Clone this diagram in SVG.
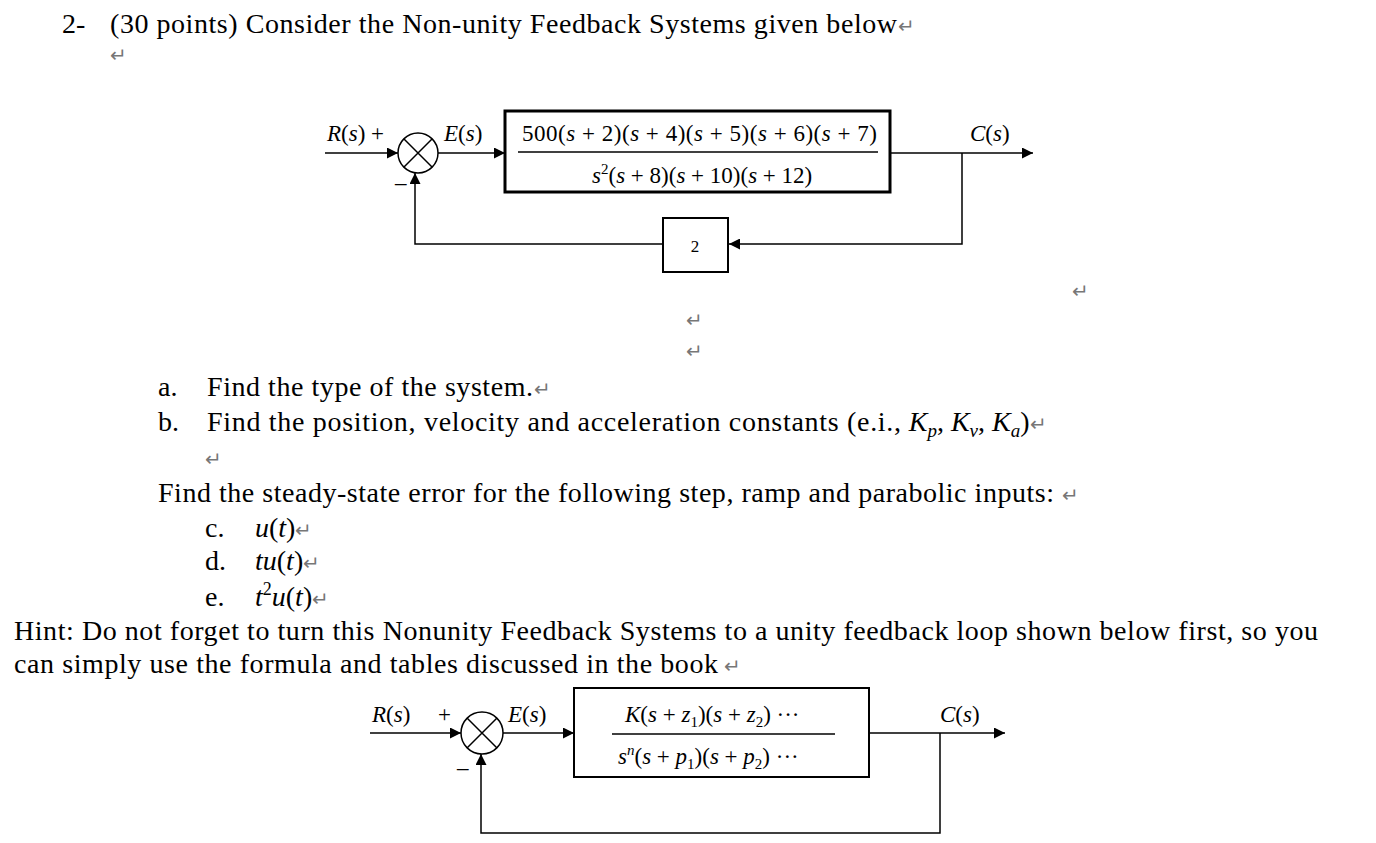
<svg xmlns="http://www.w3.org/2000/svg" width="1376" height="843" viewBox="0 0 1376 843">
<style>
text{font-family:"Liberation Serif","Times New Roman",serif;fill:#000}
.doc{font-size:28px}
.r{fill:#777;font-size:20px}
.lab{font-size:23px}
.it{font-style:italic}
.ln{stroke:#000;stroke-width:1.5;fill:none}
.bx{stroke:#000;stroke-width:3;fill:#fff}
</style>
<defs>
<marker id="ah2" viewBox="0 0 10 10" refX="10" refY="5" markerWidth="18" markerHeight="11" markerUnits="userSpaceOnUse" orient="auto"><path d="M0,0 L10,5 L0,10 Z" fill="#000"/></marker>
</defs>
<rect width="1376" height="843" fill="#fff"/>
<g id="text">
<text class="doc" x="62" y="33">2-</text>
<text class="doc" x="110" y="33" textLength="787">(30 points) Consider the Non-unity Feedback Systems given below</text><text class="r" x="898" y="33">↵</text>
<text class="r" x="110" y="62">↵</text>
<text class="r" x="1072" y="298">↵</text>
<text class="r" x="686" y="327">↵</text>
<text class="r" x="686" y="358">↵</text>
<text class="doc" x="158" y="396">a.</text>
<text class="doc" x="207" y="396" textLength="326">Find the type of the system.</text><text class="r" x="534" y="396">↵</text>
<text class="doc" x="158" y="431">b.</text>
<text class="doc" x="207" y="431"><tspan textLength="694">Find the position, velocity and acceleration constants (e.i.,</tspan> <tspan class="it">K</tspan><tspan class="it" font-size="19" dy="6">p</tspan><tspan dy="-6">, </tspan><tspan class="it">K</tspan><tspan class="it" font-size="19" dy="6">v</tspan><tspan dy="-6">, </tspan><tspan class="it">K</tspan><tspan class="it" font-size="19" dy="6">a</tspan><tspan dy="-6">)</tspan><tspan class="r">↵</tspan></text>
<text class="r" x="205" y="466">↵</text>
<text class="doc" x="158" y="502" textLength="896">Find the steady-state error for the following step, ramp and parabolic inputs:</text><text class="r" x="1062" y="502">↵</text>
<text class="doc" x="205" y="537">c.</text><text class="doc" x="255" y="537"><tspan class="it">u</tspan>(<tspan class="it">t</tspan>)<tspan class="r">↵</tspan></text>
<text class="doc" x="205" y="570">d.</text><text class="doc" x="255" y="570"><tspan class="it">tu</tspan>(<tspan class="it">t</tspan>)<tspan class="r">↵</tspan></text>
<text class="doc" x="205" y="606">e.</text><text class="doc" x="255" y="606"><tspan class="it">t</tspan><tspan font-size="18" dy="-11">2</tspan><tspan class="it" dy="11">u</tspan>(<tspan class="it">t</tspan>)<tspan class="r">↵</tspan></text>
<text class="doc" x="14" y="640" textLength="1304">Hint: Do not forget to turn this Nonunity Feedback Systems to a unity feedback loop shown below first, so you</text>
<text class="doc" x="14" y="673" textLength="704">can simply use the formula and tables discussed in the book</text><text class="r" x="724" y="673">↵</text>
</g>
<g id="sum1"><circle cx="418" cy="153" r="20" class="ln"/><path d="M404,139 L432,167 M432,139 L404,167" class="ln"/></g>
<g id="G1"><rect x="505" y="111" width="385" height="81" class="bx"/>
<line x1="518" y1="152" x2="878" y2="152" class="ln"/>
<text class="lab" x="522" y="141" textLength="355">500(<tspan class="it">s</tspan> + 2)(<tspan class="it">s</tspan> + 4)(<tspan class="it">s</tspan> + 5)(<tspan class="it">s</tspan> + 6)(<tspan class="it">s</tspan> + 7)</text>
<text class="lab" x="592" y="183"><tspan class="it">s</tspan><tspan font-size="15" dy="-9">2</tspan><tspan dy="9">(</tspan><tspan class="it">s</tspan> + 8)(<tspan class="it">s</tspan> + 10)(<tspan class="it">s</tspan> + 12)</text></g>
<g id="H1"><rect x="663" y="218" width="65" height="54" fill="#fff" stroke="#000" stroke-width="2"/><text x="695" y="252" text-anchor="middle" font-family="'Open Sans','DejaVu Sans',sans-serif" font-size="17">2</text></g>
<g id="labels1">
<text class="lab" x="327" y="141"><tspan class="it">R</tspan>(<tspan class="it">s</tspan>) +</text>
<text class="lab" x="444" y="141"><tspan class="it">E</tspan>(<tspan class="it">s</tspan>)</text>
<text class="lab" x="970" y="141"><tspan class="it">C</tspan>(<tspan class="it">s</tspan>)</text>
<text class="lab" x="395" y="190">–</text>
</g>
<g id="sum2"><circle cx="482" cy="733" r="21" class="ln"/><path d="M467,718 L497,748 M497,718 L467,748" class="ln"/></g>
<g id="G2"><rect x="574" y="688" width="295" height="89" fill="#fff" stroke="#000" stroke-width="2"/>
<line x1="612" y1="734" x2="835" y2="734" class="ln"/>
<text class="lab" x="625" y="722"><tspan class="it">K</tspan>(<tspan class="it">s</tspan> + <tspan class="it">z</tspan><tspan font-size="15" dy="5">1</tspan><tspan dy="-5">)(</tspan><tspan class="it">s</tspan> + <tspan class="it">z</tspan><tspan font-size="15" dy="5">2</tspan><tspan dy="-5">) ···</tspan></text>
<text class="lab" x="618" y="764"><tspan class="it">s</tspan><tspan class="it" font-size="15" dy="-9">n</tspan><tspan dy="9">(</tspan><tspan class="it">s</tspan> + <tspan class="it">p</tspan><tspan font-size="15" dy="5">1</tspan><tspan dy="-5">)(</tspan><tspan class="it">s</tspan> + <tspan class="it">p</tspan><tspan font-size="15" dy="5">2</tspan><tspan dy="-5">) ···</tspan></text></g>
<g id="labels2">
<text class="lab" x="372" y="722"><tspan class="it">R</tspan>(<tspan class="it">s</tspan>)</text>
<text class="lab" x="438" y="722">+</text>
<text class="lab" x="508" y="722"><tspan class="it">E</tspan>(<tspan class="it">s</tspan>)</text>
<text class="lab" x="940" y="722"><tspan class="it">C</tspan>(<tspan class="it">s</tspan>)</text>
<text class="lab" x="457" y="775">–</text>
</g>
<g id="connectors">
<line x1="325" y1="153" x2="398" y2="153" class="ln" marker-end="url(#ah2)"/>
<line x1="438" y1="153" x2="505" y2="153" class="ln" marker-end="url(#ah2)"/>
<line x1="890" y1="153" x2="1033" y2="153" class="ln" marker-end="url(#ah2)"/>
<polyline points="962,153 962,244 729,244" class="ln" marker-end="url(#ah2)"/>
<polyline points="663,244 415,244 415,173" class="ln" marker-end="url(#ah2)"/>
<line x1="370" y1="733" x2="461" y2="733" class="ln" marker-end="url(#ah2)"/>
<line x1="503" y1="733" x2="574" y2="733" class="ln" marker-end="url(#ah2)"/>
<line x1="869" y1="733" x2="1005" y2="733" class="ln" marker-end="url(#ah2)"/>
<polyline points="940,733 940,833 481,833 481,754" class="ln" marker-end="url(#ah2)"/>
</g>
</svg>
